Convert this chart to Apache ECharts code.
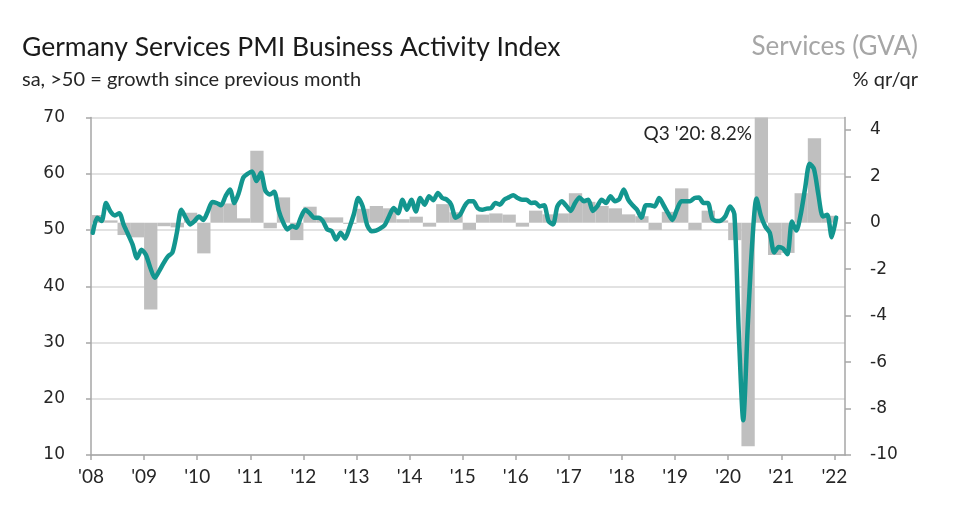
<!DOCTYPE html>
<html>
<head>
<meta charset="utf-8">
<style>
  html, body { margin: 0; padding: 0; background: #fff; }
  #container { width: 975px; height: 524px; }
</style>
<script src="https://cdn.jsdelivr.net/npm/echarts@6/dist/echarts.min.js"></script>
</head>
<body>
<div id="container"></div>
<script>
// PMI business activity index, monthly, Jan 2008 .. Jan 2022
var pmi2008 = [49.5, 52.2, 51.6, 54.8, 53.3, 52.6, 53.0, 50.9, 49.2, 47.4, 45.0, 46.5];
var pmi2009 = [45.6, 43.3, 41.5, 42.7, 44.1, 45.3, 46.0, 49.5, 53.6, 52.2, 51.0, 51.6];
var pmi2010 = [52.4, 51.8, 53.3, 55.0, 54.8, 54.4, 56.0, 57.2, 54.8, 56.6, 59.3, 60.0];
var pmi2011 = [60.4, 58.7, 60.2, 57.0, 56.3, 56.8, 53.5, 51.4, 50.1, 50.7, 50.4, 52.2];
var pmi2012 = [53.6, 53.0, 52.2, 52.2, 51.6, 50.1, 49.8, 48.3, 49.5, 48.5, 50.4, 52.8];
var pmi2013 = [55.7, 54.2, 50.9, 49.8, 49.9, 50.3, 50.9, 52.5, 53.9, 53.0, 55.4, 53.6];
var pmi2014 = [55.4, 53.3, 55.7, 54.5, 56.0, 55.3, 56.6, 55.7, 55.4, 54.5, 52.2, 52.7];
var pmi2015 = [54.2, 55.1, 55.1, 53.9, 53.6, 53.8, 53.9, 54.8, 54.5, 55.4, 55.8, 56.2];
var pmi2016 = [55.7, 55.4, 55.4, 54.8, 54.9, 54.2, 54.4, 51.6, 51.0, 54.2, 55.1, 54.3];
var pmi2017 = [53.4, 54.8, 55.8, 55.1, 55.4, 53.4, 54.2, 55.4, 54.8, 56.0, 55.1, 55.5];
var pmi2018 = [57.2, 55.4, 54.4, 53.6, 52.2, 54.4, 54.4, 54.2, 55.7, 54.4, 53.0, 51.8];
var pmi2019 = [53.6, 55.1, 55.1, 55.1, 55.7, 55.8, 54.8, 54.8, 52.0, 51.6, 51.7, 52.5];
var pmi2020 = [54.2, 52.8, 31.7, 16.2, 32.6, 47.3, 55.6, 52.5, 50.6, 49.5, 46.0, 47.0];
var pmi2021 = [46.7, 45.7, 51.5, 49.9, 52.8, 57.5, 61.8, 60.8, 56.2, 52.4, 52.7, 48.7];
var pmi2022 = [52.2];

// Services GVA, % q/q, Q1 2008 .. Q4 2021
var gva = [
  0.33, 0.1, -0.53, -0.63,
  -3.74, -0.15, -0.2, 0.43,
  -1.32, 0.83, 0.83, 0.19,
  3.1, -0.24, 1.09, -0.75,
  0.69, 0.23, 0.23, -0.05,
  0.6, 0.72, 0.62, 0.15,
  0.26, -0.17, 0.8, 0.45,
  -0.31, 0.35, 0.4, 0.35,
  -0.17, 0.52, 0.36, 0.4,
  1.27, 0.9, 0.72, 0.62,
  0.36, 0.28, -0.31, 0.47,
  1.48, -0.31, 0.52, 0.1,
  -0.75, -9.62, 8.2, -1.39,
  -1.3, 1.27, 3.64, 0.3
];

var yearTicks = [2008, 2009, 2010, 2011, 2012, 2013, 2014, 2015, 2016, 2017, 2018, 2019, 2020, 2021, 2022];
var rightTicks = [-10, -8, -6, -4, -2, 0, 2, 4];

var pmiByYear = [pmi2008, pmi2009, pmi2010, pmi2011, pmi2012, pmi2013, pmi2014,
  pmi2015, pmi2016, pmi2017, pmi2018, pmi2019, pmi2020, pmi2021, pmi2022];

var lineData = [];
pmiByYear.forEach(function (vals, yi) {
  vals.forEach(function (v, m) {
    lineData.push([2008 + yi + (m + 0.4) / 12, v]);
  });
});

var barData = gva.map(function (v, q) {
  return [2008 + (q + 0.5) / 4, v];
});

var dom = document.getElementById('container');
var myChart = echarts.init(dom, null, { renderer: 'canvas' });
var option;

var axisColor = '#a6a6a6';
var textColor = '#262626';
var font = 'Lato';

option = {
  animation: false,
  backgroundColor: '#fff',
  graphic: [
    { type: 'text', x: 22, y: 47, style: { text: 'Germany Services PMI Business Activity Index', fill: '#1a1a1a', font: '26.5px Lato', textVerticalAlign: 'middle' } },
    { type: 'text', x: 22, y: 80, style: { text: 'sa, >50 = growth since previous month', fill: textColor, font: '20px Lato', textVerticalAlign: 'middle' } },
    { type: 'text', x: 918, y: 47, style: { text: 'Services (GVA)', fill: '#a6a6a6', font: '26px Lato', textAlign: 'right', textVerticalAlign: 'middle' } },
    { type: 'text', x: 918, y: 80, style: { text: '% qr/qr', fill: textColor, font: '20px Lato', textAlign: 'right', textVerticalAlign: 'middle' } },
    { type: 'text', x: 752, y: 134, z: 10, style: { text: "Q3 '20: 8.2%", fill: textColor, font: '19px Lato', textAlign: 'right', textVerticalAlign: 'middle' } }
  ],
  grid: { left: 91, right: 130, top: 117.5, bottom: 69 },
  xAxis: {
    type: 'value',
    min: 2008,
    max: 2022.2,
    interval: 1,
    axisLine: { show: true, onZero: false, lineStyle: { color: axisColor, width: 1.5 } },
    axisTick: { show: true, length: 5, customValues: yearTicks, lineStyle: { color: axisColor, width: 1.5 } },
    axisLabel: {
      customValues: yearTicks,
      margin: 12,
      color: textColor,
      fontFamily: font,
      fontSize: 19,
      formatter: function (v) { return "'" + String(v).slice(2); }
    },
    splitLine: { show: false }
  },
  yAxis: [
    {
      type: 'value',
      min: 10,
      max: 70,
      interval: 10,
      axisLine: { show: true, lineStyle: { color: axisColor, width: 1.5 } },
      axisTick: { show: true, length: 5, lineStyle: { color: axisColor, width: 1.5 } },
      axisLabel: { margin: 26, color: textColor, fontFamily: 'DejaVu Sans', fontSize: 17 },
      splitLine: { show: true, lineStyle: { color: '#d9d9d9', width: 1.5 } }
    },
    {
      type: 'value',
      min: -10,
      max: 4.53,
      position: 'right',
      axisLine: { show: true, lineStyle: { color: axisColor, width: 1.5 } },
      axisTick: { show: true, length: 6, customValues: rightTicks, lineStyle: { color: axisColor, width: 1.5 } },
      axisLabel: { customValues: rightTicks, margin: 25, color: textColor, fontFamily: 'DejaVu Sans', fontSize: 17 },
      splitLine: { show: false }
    }
  ],
  series: [
    {
      name: 'Services (GVA)',
      type: 'bar',
      yAxisIndex: 1,
      data: barData,
      barWidth: 13.3,
      clip: true,
      itemStyle: { color: '#bfbfbf' },
      z: 2
    },
    {
      name: 'PMI',
      type: 'line',
      yAxisIndex: 0,
      data: lineData,
      showSymbol: false,
      smooth: 0.25,
      lineStyle: { color: '#13968f', width: 4.5, join: 'round', cap: 'round' },
      z: 3
    }
  ]
};

myChart.setOption(option);
window.addEventListener('resize', myChart.resize);
</script>
</body>
</html>
